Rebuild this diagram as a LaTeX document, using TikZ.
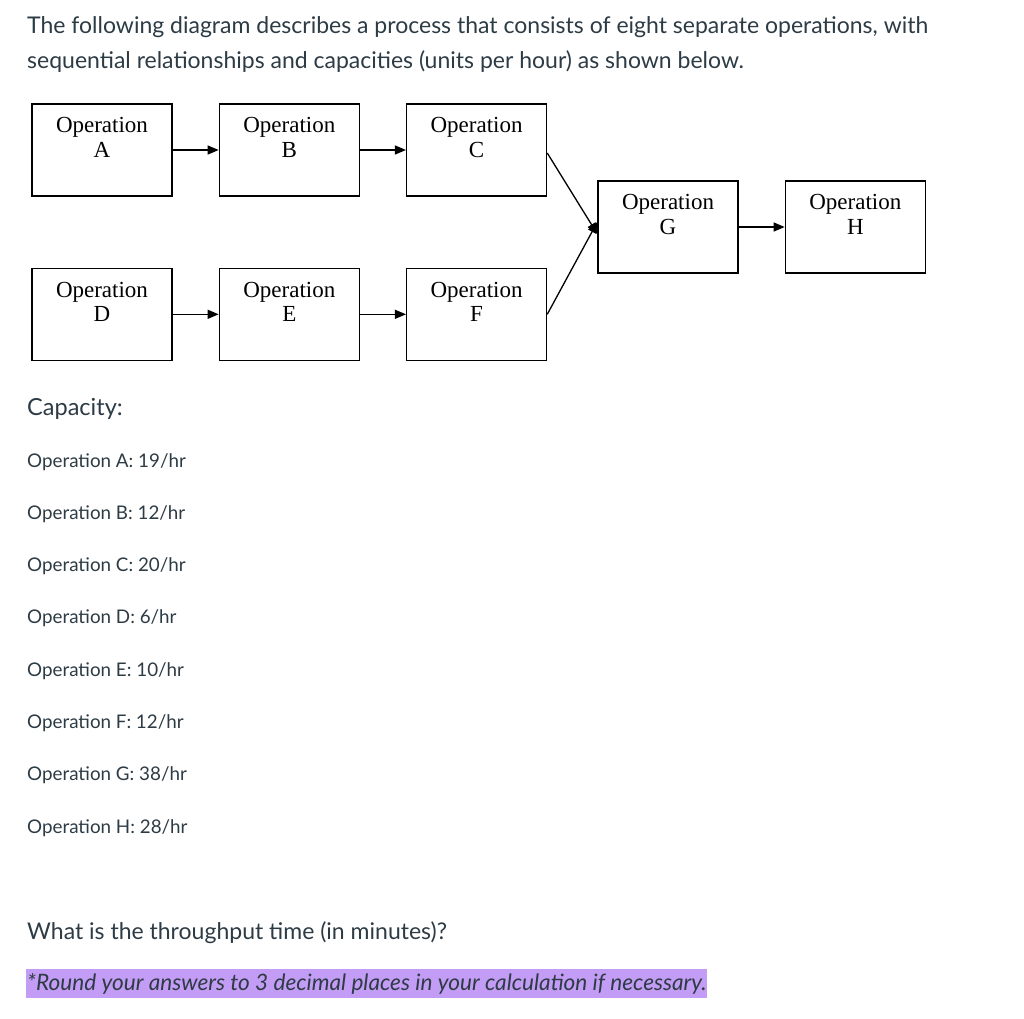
\documentclass[tikz,border=0pt]{standalone}
\usepackage{fontspec}
\usetikzlibrary{positioning,arrows.meta}
\setmainfont{Liberation Serif}
\newfontfamily\lato{Lato}
\definecolor{inkgray}{HTML}{2D3B45}
\definecolor{notebg}{HTML}{C39CF5}
\begin{document}
\begin{tikzpicture}[x=1pt,y=-1pt]
            \tikzstyle{op}=[draw, line width=1.3pt, minimum width=140pt, minimum height=92pt, inner sep=0pt]
            \tikzstyle{oplabel}=[anchor=north, align=center, inner sep=0pt, yshift=-14pt, font=\fontsize{23}{24.5}\selectfont]
            \tikzstyle{flow}=[line width=1.3pt, -{Triangle[length=11pt,width=9pt]}]
            \tikzstyle{para}=[anchor=base west, inner sep=0pt, text=inkgray]
            \useasboundingbox (0,0) rectangle (1024,1018);
            % intro text
            \node[para, font=\lato\fontsize{23}{25}\selectfont] (intro1) at (27,33) {The following diagram describes a process that consists of eight separate operations, with};
            \node[para, font=\lato\fontsize{23}{25}\selectfont] (intro2) at (27,68) {sequential relationships and capacities (units per hour) as shown below.};
            % process boxes
            \node[op, label={[oplabel]north:Operation\\A}] (opA) at (102,150) {};
            \node[op, right=46pt of opA, label={[oplabel]north:Operation\\B}] (opB) {};
            \node[op, right=46pt of opB, label={[oplabel]north:Operation\\C}] (opC) {};
            \node[op, below=71pt of opA, label={[oplabel]north:Operation\\D}] (opD) {};
            \node[op, right=46pt of opD, label={[oplabel]north:Operation\\E}] (opE) {};
            \node[op, right=46pt of opE, label={[oplabel]north:Operation\\F}] (opF) {};
            \node[op, label={[oplabel]north:Operation\\G}] (opG) at (668,227) {};
            \node[op, right=46pt of opG, label={[oplabel]north:Operation\\H}] (opH) {};
            \draw[flow] (opA) -- (opB);
            \draw[flow] (opB) -- (opC);
            \draw[flow] (opD) -- (opE);
            \draw[flow] (opE) -- (opF);
            \draw[flow] (opG) -- (opH);
            \draw[flow] ([yshift=-3pt]opC.east) -- ([yshift=-7pt]opG.west);
            \draw[flow] (opF.east) -- ([yshift=5pt]opG.west);
            % capacities
            \node[para, font=\lato\fontsize{23.5}{26}\selectfont] (capacity) at (27,415) {Capacity:};
            \foreach \l/\v [count=\i from 0] in {A/19,B/12,C/20,D/6,E/10,F/12,G/38,H/28}
                \node[para, font=\lato\fontsize{18.8}{21}\selectfont] (cap\l) at (27,467+52.3*\i) {Operation \l: \v/hr};
            % question
            \node[para, font=\lato\fontsize{23}{26}\selectfont] (question) at (27,939) {What is the throughput time (in minutes)?};
            \node[anchor=base west, fill=notebg, inner xsep=1pt, inner ysep=0pt, text height=21pt, text depth=8pt, text=inkgray, font=\lato\itshape\fontsize{22.6}{25}\selectfont] (note) at (26,990) {*Round your answers to 3 decimal places in your calculation if necessary.};
\end{tikzpicture}
\end{document}
